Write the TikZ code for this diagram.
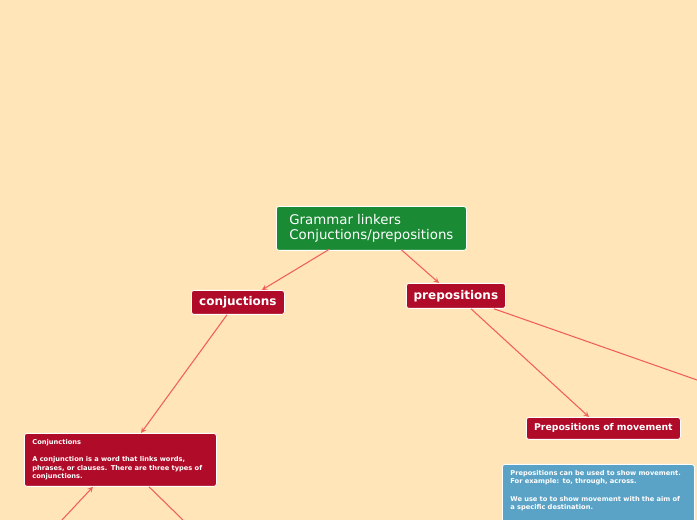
\documentclass[tikz,border=0pt]{standalone}
\usepackage{fontspec}
\setmainfont{DejaVu Sans}
\definecolor{bg}{HTML}{FFE5B8}
\definecolor{grn}{HTML}{1A8A34}
\definecolor{rd}{HTML}{B00B28}
\definecolor{bl}{HTML}{5BA3C6}
\definecolor{ln}{HTML}{F0605A}
\begin{document}
\begin{tikzpicture}[x=0.75pt,y=-0.75pt,
  box/.style={draw=white,line width=0.6pt,rounded corners=2pt,text=white,inner sep=0pt,anchor=north west},
  con/.style={draw=ln,line width=0.8pt,-stealth}]
\useasboundingbox (0,0) rectangle (697,520);
\clip (0,0) rectangle (697,520);
\fill[bg] (0,0) rectangle (697,520);
\node[box,fill=grn,minimum width=190*0.75pt,minimum height=44*0.75pt,align=left,font=\fontsize{10}{11.5}\selectfont] (root) at (276,206) {Grammar linkers\\Conjuctions/prepositions};
\node[box,fill=rd,minimum width=93*0.75pt,minimum height=24*0.75pt,font=\fontsize{9}{10}\selectfont\bfseries] (conj) at (191,290) {conjuctions};
\node[box,fill=rd,minimum width=99*0.75pt,minimum height=25*0.75pt,font=\fontsize{9}{10}\selectfont\bfseries] (prep) at (406,283) {prepositions};
\node[box,fill=rd,minimum width=154*0.75pt,minimum height=22*0.75pt,font=\fontsize{7}{8}\selectfont\bfseries] (pom) at (526,417) {Prepositions of movement};
\node[box,fill=rd,minimum width=190*0.75pt,minimum height=53*0.75pt,align=left,font=\fontsize{5}{6.4}\selectfont\bfseries,text width=132pt,inner xsep=6pt] (cbox) at (24,433) {Conjunctions\\[6.4pt]A conjunction is a word that links words, phrases, or clauses. There are three types of conjunctions.};
\node[box,fill=bl,minimum width=190*0.75pt,align=left,font=\fontsize{5}{6.4}\selectfont\bfseries,text width=132pt,inner xsep=6pt,inner ysep=4.5pt] (pbox) at (502,464) {Prepositions can be used to show movement. For example: to, through, across.\\[6.4pt]We use to to show movement with the aim of a specific destination.\\[6.4pt]\phantom{x}\\\phantom{x}};
\coordinate (e1) at (697,380);
\coordinate (b1) at (62,520);
\coordinate (b2) at (183,520);
\draw[con] (root.south west)++(53*0.75pt,1pt) -- ([xshift=-23*0.75pt]conj.north east);
\draw[con] (root.south west)++(125*0.75pt,1pt) -- ([xshift=33*0.75pt]prep.north west);
\draw[con] ([xshift=36*0.75pt]conj.south west) -- ([xshift=117*0.75pt]cbox.north west);
\draw[con] ([xshift=65*0.75pt]prep.south west) -- ([xshift=63*0.75pt]pom.north west);
\draw[draw=ln,line width=0.8pt] ([xshift=88*0.75pt]prep.south west) -- (e1);
\draw[con] (b1) -- ([xshift=69*0.75pt]cbox.south west);
\draw[draw=ln,line width=0.8pt] ([xshift=125*0.75pt]cbox.south west) -- (b2);
\end{tikzpicture}
\end{document}
